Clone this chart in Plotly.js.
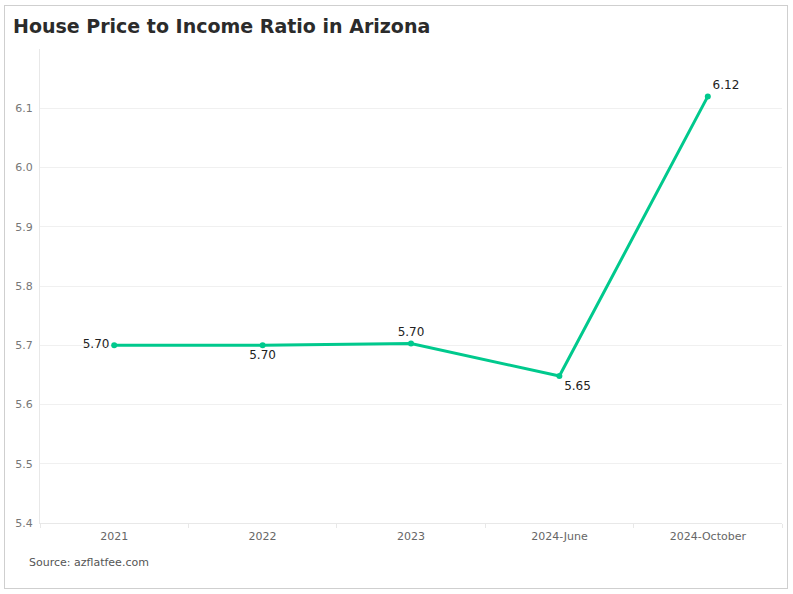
<!DOCTYPE html>
<html>
<head>
<meta charset="utf-8">
<script src="https://cdn.plot.ly/plotly-3.0.1.min.js"></script>
<style>
  html, body { margin: 0; padding: 0; background: #fff; }
  #chart { position: absolute; left: 0; top: 0; width: 793px; height: 594px; }
  #frame { position: absolute; left: 4px; top: 5px; width: 782px; height: 582px; border: 1px solid #cfcfcf; pointer-events: none; }
</style>
</head>
<body>
<div id="chart"></div>
<div id="frame"></div>
<script>
const categories = ['2021', '2022', '2023', '2024-June', '2024-October'];
const ratioValues = [5.700, 5.700, 5.703, 5.648, 6.120];
const ratioLabels = ['5.70', '5.70', '5.70', '5.65', '6.12'];
const labelPositions = ['middle left', 'bottom center', 'top center', 'bottom right', 'top right'];
const yTickValues = [5.4, 5.5, 5.6, 5.7, 5.8, 5.9, 6.0, 6.1];
const yTickLabels = ['5.4', '5.5', '5.6', '5.7', '5.8', '5.9', '6.0', '6.1'];

const trace = {
  x: categories,
  y: ratioValues,
  type: 'scatter',
  mode: 'lines+markers+text',
  text: ratioLabels,
  textposition: labelPositions,
  textfont: { family: 'DejaVu Sans', size: 12, color: '#222' },
  line: { color: '#00C98D', width: 3 },
  marker: { color: '#00C98D', size: 6 },
  hoverinfo: 'skip',
  cliponaxis: false
};

const layout = {
  width: 793,
  height: 594,
  margin: { l: 40, r: 11, t: 49, b: 71 },
  paper_bgcolor: '#fff',
  plot_bgcolor: '#fff',
  showlegend: false,
  title: {
    text: '<b>House Price to Income Ratio in Arizona</b>',
    font: { family: 'DejaVu Sans', size: 19, color: '#2b2b2b' },
    x: 13 / 793, xanchor: 'left', xref: 'container',
    y: 1 - 26 / 594, yanchor: 'middle', yref: 'container'
  },
  xaxis: {
    type: 'category',
    range: [-0.5, 4.5],
    tickson: 'boundaries',
    ticks: 'outside',
    ticklen: 4,
    tickcolor: '#e8e8e8',
    showgrid: false,
    showline: true,
    linecolor: '#e8e8e8',
    linewidth: 1,
    zeroline: false,
    ticklabelstandoff: 3,
    tickfont: { family: 'DejaVu Sans', size: 11, color: '#666' },
    fixedrange: true
  },
  yaxis: {
    range: [5.4, 6.2],
    tickvals: yTickValues,
    ticktext: yTickLabels,
    showgrid: true,
    gridcolor: '#f0f0f0',
    gridwidth: 1,
    showline: true,
    linecolor: '#e8e8e8',
    linewidth: 1,
    zeroline: false,
    ticks: '',
    ticklabelstandoff: 4,
    tickfont: { family: 'DejaVu Sans', size: 11, color: '#777' },
    fixedrange: true
  },
  annotations: [{
    text: 'Source: azflatfee.com',
    xref: 'paper', yref: 'paper',
    x: -13 / 742, xanchor: 'left',
    y: -39 / 474, yanchor: 'middle',
    showarrow: false,
    font: { family: 'DejaVu Sans', size: 11, color: '#555' }
  }]
};

Plotly.newPlot('chart', [trace], layout, { displayModeBar: false, staticPlot: true });
</script>
</body>
</html>
